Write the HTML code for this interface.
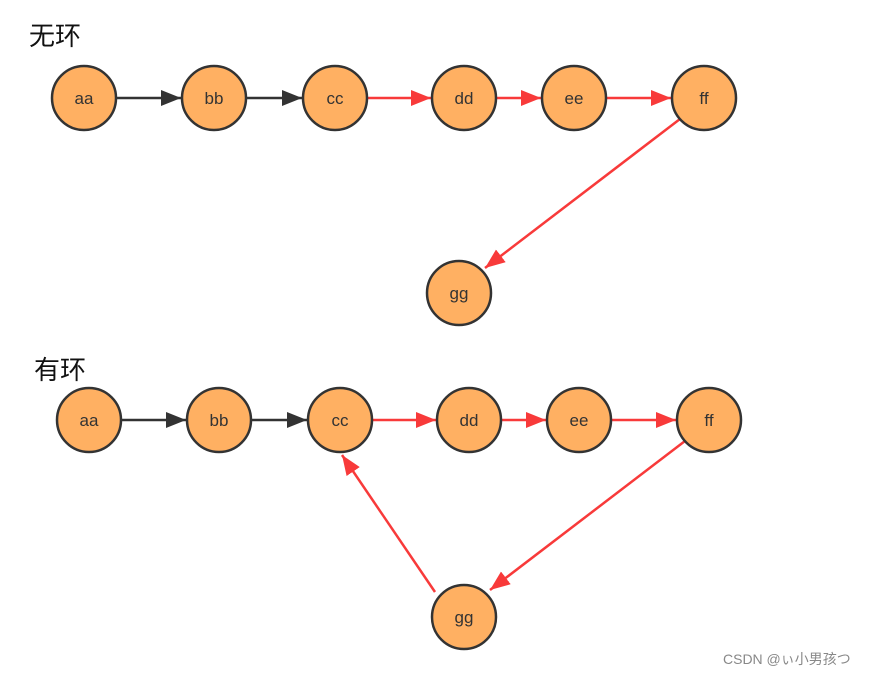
<!DOCTYPE html>
<html><head><meta charset="utf-8"><style>
html,body{margin:0;padding:0;background:#fff;}
svg{display:block;}
</style></head><body>
<svg width="885" height="675" viewBox="0 0 885 675" xmlns="http://www.w3.org/2000/svg">
<defs>
<marker id="ab" markerWidth="20" markerHeight="16" refX="20" refY="8" orient="auto" markerUnits="userSpaceOnUse"><path d="M0,0 L20,8 L0,16 Z" fill="#333"/></marker>
<marker id="ar" markerWidth="20" markerHeight="16" refX="20" refY="8" orient="auto" markerUnits="userSpaceOnUse"><path d="M0,0 L20,8 L0,16 Z" fill="#f83a3a"/></marker>
</defs>
<style>
.n{fill:#ffb062;stroke:#333;stroke-width:2.5}
.t{font-family:"Liberation Sans","DejaVu Sans",sans-serif;font-size:17px;fill:#333;text-anchor:middle}
.b{stroke:#333;stroke-width:2.5;fill:none}
.r{stroke:#f83a3a;stroke-width:2.5;fill:none}
.h{font-family:"Liberation Sans","Noto Sans CJK SC",sans-serif;font-size:26px;fill:#111}
</style>
<text class="h" x="29" y="45">无环</text>
<text class="h" x="34" y="379">有环</text>
<line class="b" x1="116" y1="98" x2="181" y2="98" marker-end="url(#ab)"/>
<line class="b" x1="246" y1="98" x2="302" y2="98" marker-end="url(#ab)"/>
<line class="r" x1="367" y1="98" x2="431" y2="98" marker-end="url(#ar)"/>
<line class="r" x1="496" y1="98" x2="541" y2="98" marker-end="url(#ar)"/>
<line class="r" x1="606" y1="98" x2="671" y2="98" marker-end="url(#ar)"/>
<line class="r" x1="680" y1="119" x2="485" y2="268" marker-end="url(#ar)"/>
<line class="b" x1="121" y1="420" x2="186" y2="420" marker-end="url(#ab)"/>
<line class="b" x1="251" y1="420" x2="307" y2="420" marker-end="url(#ab)"/>
<line class="r" x1="372" y1="420" x2="436" y2="420" marker-end="url(#ar)"/>
<line class="r" x1="501" y1="420" x2="546" y2="420" marker-end="url(#ar)"/>
<line class="r" x1="611" y1="420" x2="676" y2="420" marker-end="url(#ar)"/>
<line class="r" x1="685" y1="441" x2="490" y2="590" marker-end="url(#ar)"/>
<line class="r" x1="435" y1="592" x2="342" y2="455" marker-end="url(#ar)"/>
<g>
<circle class="n" cx="84" cy="98" r="32"/><text class="t" x="84" y="104">aa</text>
<circle class="n" cx="214" cy="98" r="32"/><text class="t" x="214" y="104">bb</text>
<circle class="n" cx="335" cy="98" r="32"/><text class="t" x="335" y="104">cc</text>
<circle class="n" cx="464" cy="98" r="32"/><text class="t" x="464" y="104">dd</text>
<circle class="n" cx="574" cy="98" r="32"/><text class="t" x="574" y="104">ee</text>
<circle class="n" cx="704" cy="98" r="32"/><text class="t" x="704" y="104">ff</text>
<circle class="n" cx="459" cy="293" r="32"/><text class="t" x="459" y="299">gg</text>
<circle class="n" cx="89" cy="420" r="32"/><text class="t" x="89" y="426">aa</text>
<circle class="n" cx="219" cy="420" r="32"/><text class="t" x="219" y="426">bb</text>
<circle class="n" cx="340" cy="420" r="32"/><text class="t" x="340" y="426">cc</text>
<circle class="n" cx="469" cy="420" r="32"/><text class="t" x="469" y="426">dd</text>
<circle class="n" cx="579" cy="420" r="32"/><text class="t" x="579" y="426">ee</text>
<circle class="n" cx="709" cy="420" r="32"/><text class="t" x="709" y="426">ff</text>
<circle class="n" cx="464" cy="617" r="32"/><text class="t" x="464" y="623">gg</text>
</g>
<text x="723" y="664" style="font-family:'Liberation Sans','Noto Sans CJK SC',sans-serif;font-size:14px;fill:#888">CSDN @ぃ小男孩つ</text>
</svg>
</body></html>
